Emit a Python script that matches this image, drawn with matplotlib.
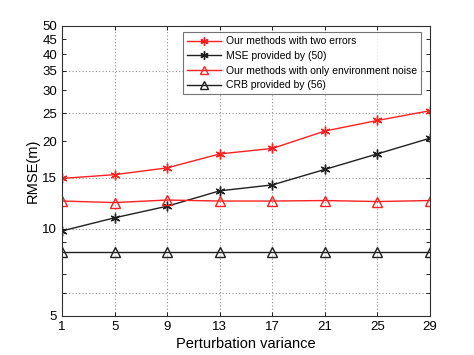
import matplotlib
matplotlib.use("Agg")
from matplotlib import pyplot as plt
from matplotlib.ticker import FixedLocator, NullFormatter

plt.rcParams['font.family'] = ['Liberation Sans', 'DejaVu Sans']
plt.rcParams['axes.grid'] = False

x = [1, 5, 9, 13, 17, 21, 25, 29]
two_errors = [14.9, 15.35, 16.2, 18.1, 18.9, 21.7, 23.6, 25.5]
mse_50 = [9.82, 10.9, 11.95, 13.5, 14.15, 16.0, 18.1, 20.5]
env_noise = [12.45, 12.3, 12.55, 12.45, 12.45, 12.5, 12.4, 12.5]
crb_56 = [8.3, 8.3, 8.3, 8.3, 8.3, 8.3, 8.3, 8.3]

labels = ['Our methods with two errors', 'MSE provided by (50)',
          'Our methods with only environment noise', 'CRB provided by (56)']

y_major = [5, 10, 15, 20, 25, 30, 35, 40, 45, 50]
y_minor = [6, 7, 8, 9]
y_grid = [6, 10, 15, 25, 35]

fig = plt.figure(figsize=(4.74, 3.55), dpi=100)
ax = fig.add_axes([0.131, 0.110, 0.776, 0.817])

ax.plot(x, two_errors, color='#ff2020', marker=(6, 2, 0), markersize=7, lw=1.0, mew=1.0, label=labels[0])
ax.plot(x, mse_50, color='#202020', marker=(6, 2, 0), markersize=7, lw=1.0, mew=1.0, label=labels[1])
ax.plot(x, env_noise, color='#ff2020', marker='^', markersize=7, lw=1.0, mfc='none', mew=1.0, label=labels[2])
ax.plot(x, crb_56, color='#202020', marker='^', markersize=7, lw=1.0, mfc='none', mew=1.0, label=labels[3])

ax.set_yscale('log')
ax.set_ylim(5, 50)
ax.set_xlim(1, 29)
ax.yaxis.set_major_locator(FixedLocator(y_major))
ax.yaxis.set_minor_locator(FixedLocator(y_minor))
ax.yaxis.set_minor_formatter(NullFormatter())
ax.set_yticklabels([str(v) for v in y_major])
ax.set_xticks(x)
ax.grid(False, which='both')

# dotted grid only where the original shows it
for v in y_grid:
    ax.axhline(v, color='#909090', lw=0.8, ls=(0, (1, 2)), zorder=0)
for v in x[1:-1]:
    ax.axvline(v, color='#909090', lw=0.8, ls=(0, (1, 2)), zorder=0)

ax.tick_params(which='both', direction='in', top=True, right=True, labelsize=9.5, length=3, width=0.6)
for s in ax.spines.values():
    s.set_linewidth(0.8)
    s.set_color('#303030')

ax.set_xlabel('Perturbation variance', fontsize=10.5, labelpad=3)
ax.set_ylabel('RMSE(m)', fontsize=10.5, labelpad=2)

leg = ax.legend(loc='upper left', bbox_to_anchor=(0.329, 0.979), fontsize=7.5, frameon=True,
                fancybox=False, edgecolor='#505050', handlelength=3.2, borderpad=0.4,
                labelspacing=0.45, handletextpad=0.5, borderaxespad=0.0, markerscale=0.85)
leg.get_frame().set_linewidth(0.8)

fig.savefig('out.png', dpi=100)
